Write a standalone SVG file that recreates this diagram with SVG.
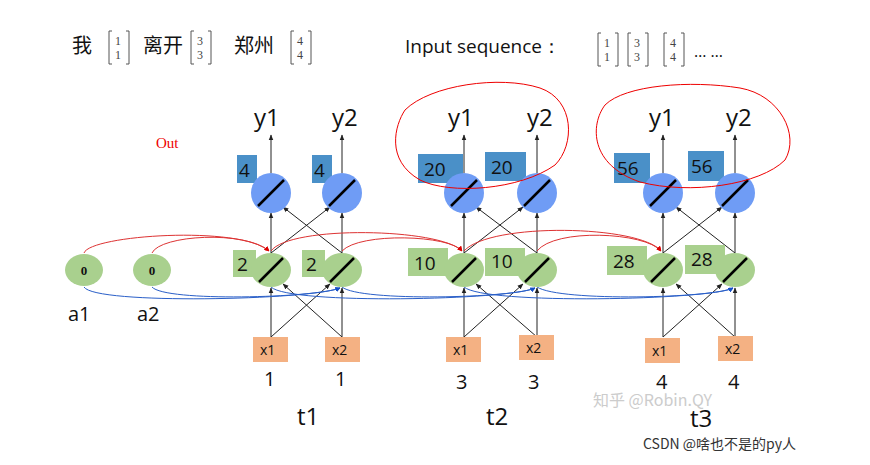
<svg xmlns="http://www.w3.org/2000/svg" width="870" height="465" viewBox="0 0 870 465">
<defs>
<marker id="ar" viewBox="0 0 10 10" refX="9" refY="5" markerWidth="6" markerHeight="6" orient="auto"><path d="M0,1L10,5L0,9z" fill="#222"/></marker>
<marker id="rr" viewBox="0 0 10 10" refX="9" refY="5" markerWidth="5" markerHeight="5" orient="auto"><path d="M0,0L10,5L0,10z" fill="#d00"/></marker>
<marker id="br" viewBox="0 0 10 10" refX="9" refY="5" markerWidth="5" markerHeight="5" orient="auto"><path d="M0,0L10,5L0,10z" fill="#1550c8"/></marker>
</defs>
<style>
text{font-family:"Open Sans","Noto Sans",sans-serif;fill:#111}
.g{fill:#a9d08e}.b{fill:#6f9cf5}.gb{fill:#a9d08e}.bb{fill:#4a90c8}.xb{fill:#f4b183}
.sl{stroke:#000;stroke-width:2.5}
.c{fill:none;stroke:#222;stroke-width:1;marker-end:url(#ar)}
.r{fill:none;stroke:#d33;stroke-width:1;marker-end:url(#rr)}
.bl{fill:none;stroke:#2a5fc8;stroke-width:1;marker-end:url(#br)}
.m text{font-family:"Liberation Serif",serif;font-size:12px;fill:#444}
.cjk{font-family:"Noto Sans CJK SC",sans-serif}
</style>
<rect width="870" height="465" fill="#fff"/>
<g id="title" font-size="20">
<text x="72" y="53" class="cjk">我</text>
<text x="143" y="53" class="cjk">离开</text>
<text x="234" y="53" class="cjk">郑州</text>
<text x="405" y="53" font-size="19">Input sequence：</text>
<text x="694" y="57" font-size="16">… …</text>
</g>
<g id="vectors" fill="none" stroke="#555" stroke-width="1">
<path d="M112,31h-3v33h3M126,31h3v33h-3M194,31h-3v33h3M208,31h3v33h-3M294,31h-3v33h3M308,31h3v33h-3"/>
<path d="M601,33h-3v33h3M615,33h3v33h-3M631,33h-3v33h3M645,33h3v33h-3M667,33h-3v33h3M681,33h3v33h-3"/>
</g>
<g id="vnums" class="m">
<text x="115" y="45">1</text><text x="115" y="59">1</text>
<text x="197" y="45">3</text><text x="197" y="59">3</text>
<text x="297" y="45">4</text><text x="297" y="59">4</text>
<text x="604" y="47">1</text><text x="604" y="61">1</text>
<text x="634" y="47">3</text><text x="634" y="61">3</text>
<text x="670" y="47">4</text><text x="670" y="61">4</text>
</g>
<text x="156" y="148" font-size="15" style="fill:#e00;font-family:'Liberation Serif',serif">Out</text>
<g id="connectors">
<path class="c" d="M271,173V135"/><path class="c" d="M342,173V135"/><path class="c" d="M464,173V135"/><path class="c" d="M537,173V135"/><path class="c" d="M663,173V135"/><path class="c" d="M735,173V135"/>
<path class="c" d="M271,253V213"/><path class="c" d="M342,253V213"/><path class="c" d="M464,253V213"/><path class="c" d="M537,253V213"/><path class="c" d="M663,253V213"/><path class="c" d="M735,253V213"/>
<path class="c" d="M271,253L330,207"/><path class="c" d="M342,253L283,207"/><path class="c" d="M464,253L523,207"/><path class="c" d="M537,253L476,207"/><path class="c" d="M663,253L722,207"/><path class="c" d="M735,253L676,207"/>
<path class="c" d="M271,337V288"/><path class="c" d="M342,337V288"/><path class="c" d="M464,337V288"/><path class="c" d="M537,337V288"/><path class="c" d="M663,337V288"/><path class="c" d="M735,337V288"/>
<path class="c" d="M271,337L330,284"/><path class="c" d="M342,337L283,284"/><path class="c" d="M464,337L523,284"/><path class="c" d="M537,337L476,284"/><path class="c" d="M663,337L722,284"/><path class="c" d="M735,337L676,284"/>
<path class="r" d="M84,253C90,235 240,225 269,251"/><path class="r" d="M152,253C160,235 245,230 269,251"/>
<path class="r" d="M271,251C290,225 440,228 462,251"/><path class="r" d="M342,251C360,232 450,235 462,251"/>
<path class="r" d="M464,251C490,222 640,225 661,251"/><path class="r" d="M537,251C555,228 645,232 661,251"/>
<path class="bl" d="M84,287C95,305 310,300 340,288"/><path class="bl" d="M152,287C165,302 315,298 340,288"/>
<path class="bl" d="M271,287C290,305 510,300 535,288"/><path class="bl" d="M342,287C360,302 515,298 535,288"/>
<path class="bl" d="M464,287C485,305 710,300 733,288"/><path class="bl" d="M537,287C560,302 715,298 733,288"/>
</g>
<g id="initial">
<ellipse class="g" cx="84" cy="270" rx="19" ry="16"/><text x="84" y="275" text-anchor="middle" font-weight="bold" font-size="13" style="font-family:'Liberation Serif',serif">0</text>
<ellipse class="g" cx="152" cy="270" rx="19" ry="16"/><text x="152" y="275" text-anchor="middle" font-weight="bold" font-size="13" style="font-family:'Liberation Serif',serif">0</text>
<text x="68" y="321" font-size="20">a1</text><text x="137" y="321" font-size="20">a2</text>
</g>
<g id="hidden" font-size="19">
<rect class="gb" x="233" y="250" width="23" height="27"/><text x="237" y="271">2</text>
<ellipse class="g" cx="271" cy="270" rx="20" ry="17"/><path class="sl" d="M259,282L283,258"/>
<rect class="gb" x="302" y="250" width="23" height="27"/><text x="306" y="271">2</text>
<ellipse class="g" cx="342" cy="270" rx="20" ry="17"/><path class="sl" d="M330,282L354,258"/>
<rect class="gb" x="408" y="248" width="40" height="28"/><text x="414" y="270">10</text>
<ellipse class="g" cx="464" cy="270" rx="20" ry="17"/><path class="sl" d="M452,282L476,258"/>
<rect class="gb" x="485" y="248" width="40" height="28"/><text x="491" y="268">10</text>
<ellipse class="g" cx="537" cy="270" rx="20" ry="17"/><path class="sl" d="M525,282L549,258"/>
<rect class="gb" x="607" y="246" width="40" height="29"/><text x="613" y="268">28</text>
<ellipse class="g" cx="663" cy="270" rx="20" ry="17"/><path class="sl" d="M651,282L675,258"/>
<rect class="gb" x="685" y="245" width="40" height="29"/><text x="691" y="266">28</text>
<ellipse class="g" cx="735" cy="270" rx="20" ry="17"/><path class="sl" d="M723,282L747,258"/>
</g>
<g id="output" font-size="19">
<rect class="bb" x="237" y="155" width="20" height="28"/><text x="239" y="177">4</text>
<circle class="b" cx="271" cy="193" r="20"/><path class="sl" d="M258,206L284,180"/>
<rect class="bb" x="312" y="155" width="20" height="28"/><text x="314" y="177">4</text>
<circle class="b" cx="342" cy="193" r="20"/><path class="sl" d="M329,206L355,180"/>
<rect class="bb" x="418" y="154" width="45" height="29"/><text x="424" y="176">20</text>
<circle class="b" cx="464" cy="193" r="20"/><path class="sl" d="M451,206L477,180"/>
<rect class="bb" x="485" y="152" width="41" height="29"/><text x="491" y="174">20</text>
<circle class="b" cx="537" cy="193" r="20"/><path class="sl" d="M524,206L550,180"/>
<rect class="bb" x="614" y="153" width="36" height="30"/><text x="617" y="175">56</text>
<circle class="b" cx="663" cy="193" r="20"/><path class="sl" d="M650,206L676,180"/>
<rect class="bb" x="688" y="151" width="36" height="30"/><text x="691" y="173">56</text>
<circle class="b" cx="735" cy="193" r="20"/><path class="sl" d="M722,206L748,180"/>
<g font-size="24">
<text x="254" y="126">y1</text><text x="332" y="126">y2</text>
<text x="448" y="126">y1</text><text x="527" y="126">y2</text>
<text x="649" y="126">y1</text><text x="726" y="126">y2</text>
</g>
</g>
<g id="inputs" font-size="14">
<rect class="xb" x="253" y="337" width="35" height="25"/><text x="260" y="355">x1</text>
<rect class="xb" x="325" y="337" width="35" height="25"/><text x="332" y="355">x2</text>
<rect class="xb" x="446" y="337" width="35" height="25"/><text x="453" y="355">x1</text>
<rect class="xb" x="519" y="335" width="35" height="25"/><text x="526" y="353">x2</text>
<rect class="xb" x="645" y="338" width="35" height="25"/><text x="652" y="356">x1</text>
<rect class="xb" x="718" y="336" width="35" height="25"/><text x="725" y="354">x2</text>
<g font-size="20">
<text x="264" y="386">1</text><text x="335" y="386">1</text>
<text x="456" y="389">3</text><text x="528" y="389">3</text>
<text x="656" y="389">4</text><text x="728" y="389">4</text>
<text x="297" y="425" font-size="24">t1</text><text x="486" y="425" font-size="24">t2</text><text x="690" y="427" font-size="24">t3</text>
</g>
</g>
<g id="annot" fill="none" stroke="#e00" stroke-width="1">
<path d="M405,110C395,125 385,160 420,180C450,195 520,190 555,165C575,145 575,100 540,88C500,75 430,85 405,110Z"/>
<path d="M605,105C590,125 590,165 640,182C690,195 760,185 785,160C800,135 780,95 740,88C690,80 625,85 605,105Z"/>
</g>
<text x="593" y="406" font-size="16" class="cjk" style="fill:#ccc">知乎 @Robin.QY</text>
<text x="643" y="449" font-size="14" class="cjk" style="fill:#333">CSDN @啥也不是的py人</text>
</svg>
